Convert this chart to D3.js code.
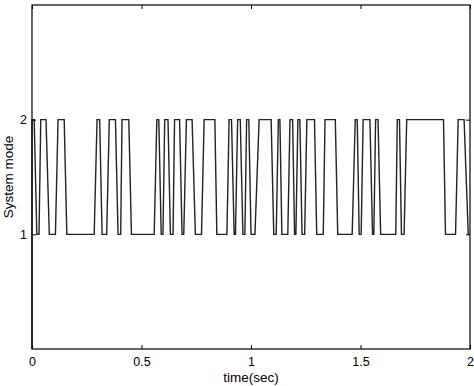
<!DOCTYPE html>
<html>
<head>
<meta charset="utf-8">
<script src="https://cdn.jsdelivr.net/npm/d3@7"></script>
<style>
  body { margin: 0; background: #fff; }
  text { font-family: "Liberation Sans", Arial, sans-serif; }
</style>
</head>
<body>
<svg id="chart" width="474" height="386"></svg>
<script>
// held segments of the mode signal: start time, end time, mode
const segStart = [0, 0, 0.022, 0.04, 0.079, 0.119, 0.159, 0.297, 0.32, 0.353, 0.393, 0.411, 0.454, 0.57, 0.59, 0.606, 0.632, 0.651,
  0.685, 0.705, 0.746, 0.786, 0.844, 0.90, 0.923, 0.939, 0.963, 0.98,
  1.0, 1.037, 1.104, 1.125, 1.141, 1.178, 1.199, 1.214, 1.233, 1.255, 1.30,
  1.338, 1.396, 1.476, 1.494, 1.512, 1.555, 1.569, 1.592,
  1.668, 1.687, 1.711, 1.888, 1.946, 1.992];
const segEnd = [0, 0.01, 0.032, 0.064, 0.107, 0.147, 0.284, 0.309, 0.341, 0.381, 0.405, 0.442, 0.558, 0.579, 0.598, 0.621, 0.644, 0.674,
  0.693, 0.731, 0.774, 0.835, 0.89, 0.911, 0.929, 0.951, 0.972, 0.99,
  1.018, 1.092, 1.115, 1.132, 1.168, 1.19, 1.205, 1.223, 1.245, 1.29, 1.33,
  1.385, 1.462, 1.485, 1.503, 1.543, 1.561, 1.58, 1.661,
  1.678, 1.699, 1.879, 1.934, 1.973, 2.0];
const segMode = [0, 2, 1, 2, 1, 2, 1, 2, 1, 2, 1, 2, 1, 2, 1, 2, 1, 2,
  1, 2, 1, 2, 1, 2, 1, 2, 1, 2,
  1, 2, 1, 2, 1, 2, 1, 2, 1, 2, 1,
  2, 1, 2, 1, 2, 1, 2, 1,
  2, 1, 2, 1, 2, 1];

const xTicks = [0, 0.5, 1, 1.5, 2];
const yTicks = [1, 2];

const width = 474, height = 386;
const margin = {top: 5, right: 4, bottom: 37, left: 32};
const svg = d3.select("#chart");

const x = d3.scaleLinear().domain([0, 2]).range([margin.left, width - margin.right]);
const y = d3.scaleLinear().domain([0, 3]).range([height - margin.bottom, margin.top]);

// turn the held segments into line points
let points = [];
segMode.forEach((m, i) => {
  points.push([segStart[i], m]);
  points.push([segEnd[i], m]);
});

const line = d3.line().x(d => x(d[0])).y(d => y(d[1]));

svg.append("path")
  .datum(points)
  .attr("fill", "none")
  .attr("stroke", "#222")
  .attr("stroke-width", 1.4)
  .attr("d", line);

// axes, matlab style ticks pointing inward
const fmt = d3.format("~g");
svg.append("g")
  .attr("transform", `translate(0,${y(0)})`)
  .call(d3.axisBottom(x).tickValues(xTicks).tickFormat(fmt).tickSizeInner(-4).tickSizeOuter(0).tickPadding(8))
  .call(g => g.select(".domain").remove());
svg.append("g")
  .attr("transform", `translate(0,${y(3)})`)
  .call(d3.axisTop(x).tickValues(xTicks).tickFormat("").tickSizeInner(-4).tickSizeOuter(0))
  .call(g => g.select(".domain").remove());
svg.append("g")
  .attr("transform", `translate(${x(0)},0)`)
  .call(d3.axisLeft(y).tickValues(yTicks).tickFormat(fmt).tickSizeInner(-4).tickSizeOuter(0).tickPadding(5))
  .call(g => g.select(".domain").remove());
svg.append("g")
  .attr("transform", `translate(${x(2)},0)`)
  .call(d3.axisRight(y).tickValues(yTicks).tickFormat("").tickSizeInner(-4).tickSizeOuter(0))
  .call(g => g.select(".domain").remove());

svg.selectAll(".tick text").style("font-size", "12.5px").attr("fill", "#000");

svg.append("rect")
  .attr("x", x(0)).attr("y", y(3))
  .attr("width", x(2) - x(0)).attr("height", y(0) - y(3))
  .attr("fill", "none").attr("stroke", "#000").attr("stroke-width", 1.2);

svg.append("text")
  .attr("x", x(1)).attr("y", 382)
  .attr("text-anchor", "middle")
  .style("font-size", "13.5px")
  .text("time(sec)");

svg.append("text")
  .attr("transform", `translate(13,${(y(0) + y(3)) / 2}) rotate(-90)`)
  .attr("text-anchor", "middle")
  .style("font-size", "13.5px")
  .text("System mode");
</script>
</body>
</html>
